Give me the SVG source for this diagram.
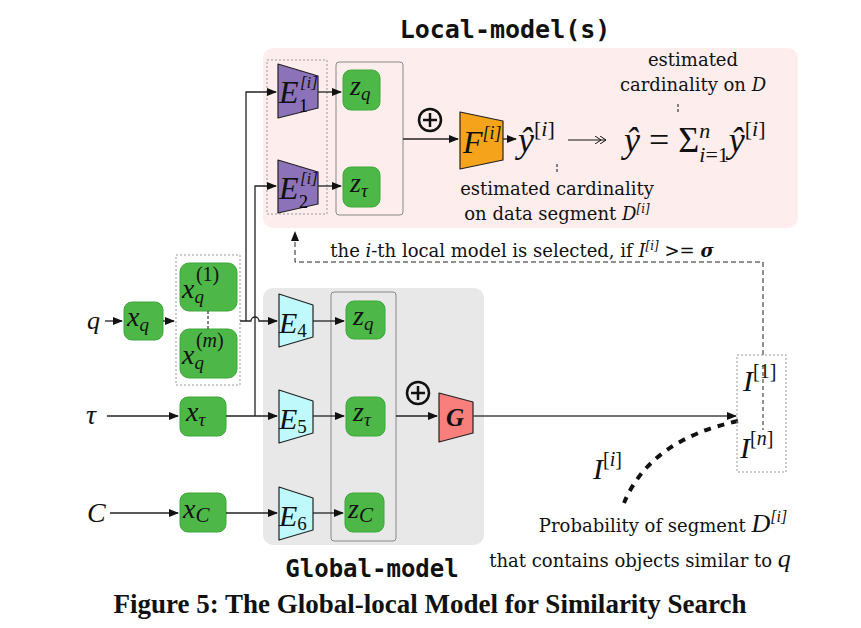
<svg xmlns="http://www.w3.org/2000/svg" width="861" height="628" viewBox="0 0 861 628">
<style>
.m{font-family:"Liberation Serif",serif;font-style:italic;fill:#111}
.t{font-family:"DejaVu Serif",serif;fill:#111;font-size:18px}
.g{fill:#4db848;stroke:#3da838;stroke-width:1}
.ln{stroke:#222;stroke-width:1.3;fill:none}
.tr{stroke:#222;stroke-width:1.2;stroke-linejoin:round}
</style>
<defs>
<marker id="a" markerWidth="10" markerHeight="8" refX="9" refY="4" orient="auto" markerUnits="userSpaceOnUse"><path d="M0,0L10,4L0,8z" fill="#111"/></marker>
<marker id="d" markerWidth="12" markerHeight="8" refX="11" refY="4" orient="auto" markerUnits="userSpaceOnUse"><path d="M0,0L6,4L0,8M5,0L11,4L5,8" fill="none" stroke="#111"/></marker>
</defs>
<rect width="861" height="628" fill="#fff"/>
<g id="local">
<rect x="263" y="48" width="535" height="180" rx="10" fill="#fdeeed"/>
<rect x="267" y="60" width="60" height="154" fill="none" stroke="#999" stroke-dasharray="2,2"/>
<rect x="336" y="62" width="67" height="153" rx="3" fill="none" stroke="#888"/>
<path class="tr" d="M278,64L318,76L318,108L278,118Z" fill="#8c72b8"/>
<path class="tr" d="M278,160L318,172L318,204L278,213Z" fill="#8c72b8"/>
<text class="m" x="279" y="103" font-size="32">E</text><text class="m" x="300" y="88" font-size="17">[i]</text><text x="299" y="112" font-size="18" font-family="Liberation Serif,serif">1</text>
<text class="m" x="279" y="199" font-size="32">E</text><text class="m" x="300" y="184" font-size="17">[i]</text><text x="299" y="208" font-size="18" font-family="Liberation Serif,serif">2</text>
<rect class="g" x="343" y="70" width="37" height="40" rx="8"/><text class="m" x="350" y="95" font-size="28">z<tspan font-size="19" dy="5">q</tspan></text>
<rect class="g" x="343" y="167" width="37" height="40" rx="8"/><text class="m" x="350" y="192" font-size="28">z<tspan font-size="19" dy="5">τ</tspan></text>
<circle cx="430" cy="120" r="11" fill="none" stroke="#111" stroke-width="2.5"/><path d="M423,120h14M430,113v14" stroke="#111" stroke-width="2.5"/>
<path class="tr" d="M460,112L503,121L503,160L460,169Z" fill="#f5a31a"/>
<text class="m" x="463" y="153" font-size="32">F<tspan font-size="18" dy="-14">[i]</tspan></text>
<text class="m" x="518" y="152" font-size="36">ŷ<tspan font-size="22" dy="-16" font-style="normal">[</tspan><tspan font-size="22">i</tspan><tspan font-size="22" font-style="normal">]</tspan></text>
<text class="m" x="624" y="152" font-size="36">ŷ <tspan font-style="normal">= Σ</tspan><tspan font-size="22" dy="-14">n</tspan><tspan font-size="22" dy="24" dx="-11">i</tspan><tspan font-size="22" font-style="normal">=1</tspan><tspan dy="-10">ŷ</tspan><tspan font-size="22" dy="-16" font-style="normal">[</tspan><tspan font-size="22">i</tspan><tspan font-size="22" font-style="normal">]</tspan></text>
<text class="t" x="693" y="66" text-anchor="middle">estimated</text>
<text class="t" x="693" y="91" text-anchor="middle">cardinality on <tspan font-style="italic">D</tspan></text>
<text class="t" x="557" y="195" text-anchor="middle">estimated cardinality</text>
<text class="t" x="557" y="220" text-anchor="middle">on data segment <tspan font-style="italic">D</tspan><tspan font-size="12" dy="-7" font-style="italic">[i]</tspan></text>
<path d="M678,104v8M557,164v9" stroke="#111" stroke-dasharray="3,2"/>
</g>
<g id="global">
<rect x="263" y="288" width="221" height="257" rx="10" fill="#e8e8e8"/>
<rect x="331" y="292" width="65" height="249" rx="3" fill="none" stroke="#888"/>
<path class="tr" d="M279,294L313,305L313,337L279,347Z" fill="#bff9fb"/>
<path class="tr" d="M279,390L313,401L313,433L279,443Z" fill="#bff9fb"/>
<path class="tr" d="M279,487L313,498L313,530L279,540Z" fill="#bff9fb"/>
<text class="m" x="279" y="333" font-size="30">E<tspan font-size="19" dy="4" font-style="normal">4</tspan></text>
<text class="m" x="279" y="429" font-size="30">E<tspan font-size="19" dy="4" font-style="normal">5</tspan></text>
<text class="m" x="279" y="526" font-size="30">E<tspan font-size="19" dy="4" font-style="normal">6</tspan></text>
<rect class="g" x="346" y="301" width="39" height="38" rx="8"/><text class="m" x="353" y="325" font-size="28">z<tspan font-size="19" dy="5">q</tspan></text>
<rect class="g" x="346" y="397" width="39" height="39" rx="8"/><text class="m" x="353" y="421" font-size="28">z<tspan font-size="19" dy="5">τ</tspan></text>
<rect class="g" x="345" y="493" width="39" height="39" rx="8"/><text class="m" x="348" y="518" font-size="28">z<tspan font-size="21" dy="4">C</tspan></text>
<circle cx="418" cy="393" r="11" fill="none" stroke="#111" stroke-width="2.5"/><path d="M411,393h14M418,386v14" stroke="#111" stroke-width="2.5"/>
<path class="tr" d="M439,393L473,402L473,433L439,442Z" fill="#f87f7b"/>
<text class="m" x="446" y="426" font-size="25" font-weight="bold">G</text>
</g>
<g id="inputs">
<text class="m" x="87" y="329" font-size="26">q</text>
<text class="m" x="86" y="424" font-size="28">τ</text>
<text class="m" x="87" y="522" font-size="28">C</text>
<rect class="g" x="124" y="302" width="39" height="38" rx="8"/><text class="m" x="127" y="326" font-size="28">x<tspan font-size="19" dy="5">q</tspan></text>
<rect x="176" y="255" width="64" height="130" fill="none" stroke="#999" stroke-dasharray="2,2"/>
<rect class="g" x="180" y="263" width="57" height="48" rx="9"/><text class="m" x="182" y="298" font-size="28">x<tspan font-size="19" dy="5">q</tspan><tspan font-size="20" dy="-22" dx="-8" font-style="normal">(1)</tspan></text>
<rect class="g" x="180" y="329" width="57" height="49" rx="9"/><text class="m" x="182" y="364" font-size="28">x<tspan font-size="19" dy="5">q</tspan><tspan font-size="20" dy="-22" dx="-8" font-style="normal">(</tspan><tspan font-size="20">m</tspan><tspan font-size="20" font-style="normal">)</tspan></text>
<path d="M208,311v18" stroke="#111" stroke-dasharray="3,2"/>
<rect class="g" x="180" y="397" width="46" height="39" rx="8"/><text class="m" x="186" y="421" font-size="28">x<tspan font-size="19" dy="5">τ</tspan></text>
<rect class="g" x="180" y="493" width="46" height="39" rx="8"/><text class="m" x="183" y="518" font-size="28">x<tspan font-size="21" dy="4">C</tspan></text>
</g>
<g id="connectors">
<path class="ln" d="M105,321H122" marker-end="url(#a)"/>
<path class="ln" d="M163,321H174" marker-end="url(#a)"/>
<path class="ln" d="M240,321H251a4,4 0 0 1 8,0H277" marker-end="url(#a)"/>
<path class="ln" d="M246,321V92H276" marker-end="url(#a)"/>
<path class="ln" d="M255,416V186H276" marker-end="url(#a)"/>
<path class="ln" d="M107,416H178" marker-end="url(#a)"/>
<path class="ln" d="M226,416H277" marker-end="url(#a)"/>
<path class="ln" d="M110,513H178" marker-end="url(#a)"/>
<path class="ln" d="M226,513H277" marker-end="url(#a)"/>
<path class="ln" d="M318,92H341" marker-end="url(#a)"/>
<path class="ln" d="M318,186H341" marker-end="url(#a)"/>
<path class="ln" d="M313,321H344" marker-end="url(#a)"/>
<path class="ln" d="M313,416H344" marker-end="url(#a)"/>
<path class="ln" d="M313,513H343" marker-end="url(#a)"/>
<path class="ln" d="M403,139H458" marker-end="url(#a)"/>
<path class="ln" d="M503,139H516" marker-end="url(#a)"/>
<path d="M568,140H606" stroke="#111" fill="none" marker-end="url(#d)"/>
<path class="ln" d="M396,416H437" marker-end="url(#a)"/>
<path d="M473,416H736" stroke="#444" stroke-width="1.3" fill="none" marker-end="url(#a)"/>
<path d="M763,355V262H295V232" stroke="#222" fill="none" stroke-dasharray="5,3" marker-end="url(#a)"/>
<path d="M763,365V430" stroke="#222" stroke-dasharray="4,3"/>
<path d="M738,421Q650,440 624,503" stroke="#111" stroke-width="4" fill="none" stroke-dasharray="7,7"/>
</g>
<g id="labels">
<text x="505" y="38" font-family="DejaVu Sans Mono,monospace" font-weight="bold" font-size="25" text-anchor="middle" fill="#111">Local-model(s)</text>
<text x="372" y="577" font-family="DejaVu Sans Mono,monospace" font-weight="bold" font-size="24" text-anchor="middle" fill="#111">Global-model</text>
<text class="t" x="522" y="257" text-anchor="middle">the <tspan font-style="italic">i</tspan>-th local model is selected, if <tspan font-style="italic">I</tspan><tspan font-size="12" dy="-7" font-style="italic">[i]</tspan><tspan dy="7">  &gt;= </tspan><tspan font-weight="bold" font-style="italic">σ</tspan></text>
<rect x="737" y="355" width="49" height="117" fill="none" stroke="#999" stroke-dasharray="2,2"/>
<text class="m" x="743" y="391" font-size="30">I<tspan font-size="20" dy="-13" font-style="normal">[1]</tspan></text>
<text class="m" x="740" y="458" font-size="30">I<tspan font-size="20" dy="-13" font-style="normal">[</tspan><tspan font-size="20">n</tspan><tspan font-size="20" font-style="normal">]</tspan></text>
<text class="m" x="593" y="479" font-size="30">I<tspan font-size="20" dy="-13" font-style="normal">[</tspan><tspan font-size="20">i</tspan><tspan font-size="20" font-style="normal">]</tspan></text>
<text class="t" x="663" y="532" text-anchor="middle">Probability of segment <tspan font-style="italic" font-size="26" font-family="Liberation Serif,serif">D</tspan><tspan font-size="16" dy="-10" font-style="italic" font-family="Liberation Serif,serif">[i]</tspan></text>
<text class="t" x="640" y="567" text-anchor="middle">that contains objects similar to <tspan font-style="italic" font-size="26" font-family="Liberation Serif,serif">q</tspan></text>
<text x="430" y="613" font-family="Liberation Serif,serif" font-weight="bold" font-size="27" text-anchor="middle" fill="#111">Figure 5: The Global-local Model for Similarity Search</text>
</g>
</svg>
